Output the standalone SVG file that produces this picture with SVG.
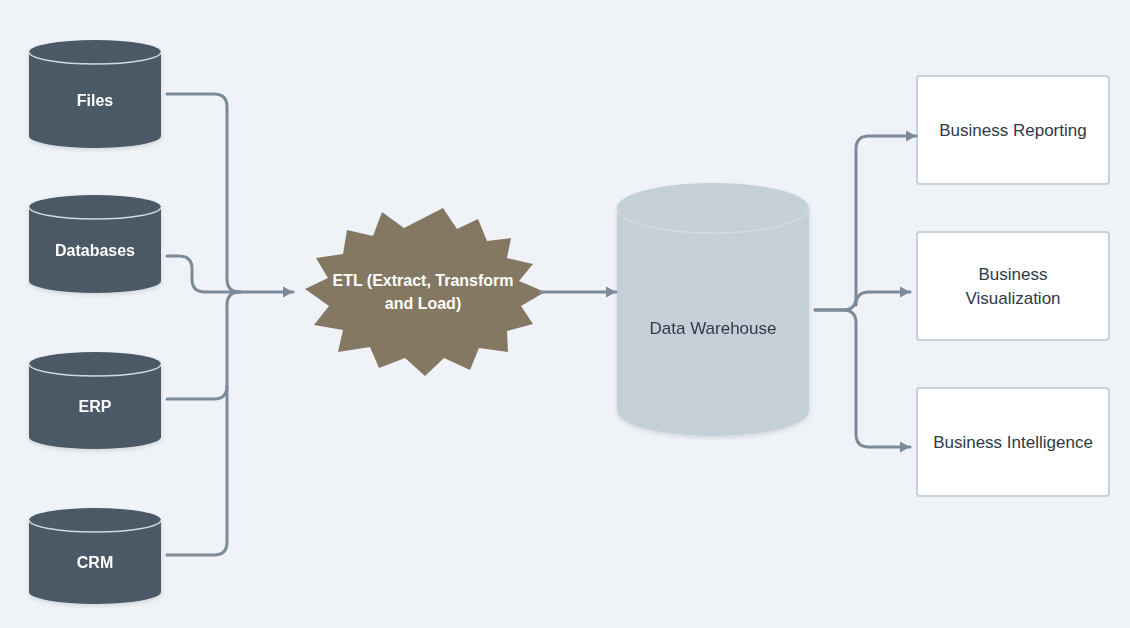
<svg xmlns="http://www.w3.org/2000/svg" width="1130" height="628" viewBox="0 0 1130 628">
<defs>
<marker id="arr" viewBox="0 0 12 12" refX="11" refY="6" markerWidth="12" markerHeight="12" markerUnits="userSpaceOnUse" orient="auto">
<path d="M1,0.5 L11,6 L1,11.5 Z" fill="#7d8a99"/>
</marker>
<filter id="sh" x="-10%" y="-10%" width="120%" height="130%">
<feDropShadow dx="0" dy="2" stdDeviation="2" flood-color="#000" flood-opacity="0.12"/>
</filter>
</defs>
<style>
.cyl{fill:#4b5866;}
.seam{fill:none;stroke:#d3d9df;stroke-width:1.5;}
.lbl{font-family:"Liberation Sans",Arial,sans-serif;font-size:16px;text-anchor:middle;dominant-baseline:central;}
.w{fill:#ffffff;font-weight:bold;}
.d{fill:#2d3a48;font-size:17px;}
.con{fill:none;stroke:#7d8a99;stroke-width:3;stroke-linecap:round;stroke-linejoin:round;}
.box{fill:#ffffff;stroke:#c8d1da;stroke-width:2;}
</style>
<rect width="1130" height="628" fill="#eff3f7"/>

<g id="files" filter="url(#sh)">
<path class="cyl" d="M29,52 A66,12 0 0 1 161,52 V136 A66,12 0 0 1 29,136 Z"/>
<path class="seam" d="M29,52 A66,12 0 0 0 161,52"/>
<text class="lbl w" x="95" y="100">Files</text>
</g>
<g id="databases" filter="url(#sh)">
<path class="cyl" d="M29,207 A66,12 0 0 1 161,207 V281 A66,12 0 0 1 29,281 Z"/>
<path class="seam" d="M29,207 A66,12 0 0 0 161,207"/>
<text class="lbl w" x="95" y="250">Databases</text>
</g>
<g id="erp" filter="url(#sh)">
<path class="cyl" d="M29,364 A66,12 0 0 1 161,364 V437 A66,12 0 0 1 29,437 Z"/>
<path class="seam" d="M29,364 A66,12 0 0 0 161,364"/>
<text class="lbl w" x="95" y="406">ERP</text>
</g>
<g id="crm" filter="url(#sh)">
<path class="cyl" d="M29,520 A66,12 0 0 1 161,520 V592 A66,12 0 0 1 29,592 Z"/>
<path class="seam" d="M29,520 A66,12 0 0 0 161,520"/>
<text class="lbl w" x="95" y="562">CRM</text>
</g>

<g id="etl">
<polygon fill="#847862" points="443,208 457,229 478,219 487,241 511,238 507,258 533,264 519,281 545,292 521,306 533,324 507,331 508,352 479,348 470,370 444,358 425,376 405,358 379,368 370,347 338,352 343,330 314,325 329,306 305,289 328,278 316,258 343,254 347,230 373,236 382,212 404,228"/>
<text class="lbl w" x="423" y="280">ETL (Extract, Transform</text>
<text class="lbl w" x="423" y="303">and Load)</text>
</g>

<g id="warehouse" filter="url(#sh)">
<path fill="#c5cfd8" d="M617,208 A96,25 0 0 1 809,208 V411 A96,25 0 0 1 617,411 Z"/>
<path class="seam" stroke="#e8edf1" d="M617,208 A96,25 0 0 0 809,208"/>
<text class="lbl d" x="713" y="328">Data Warehouse</text>
</g>

<g id="reporting">
<rect class="box" x="917" y="76" width="192" height="108" rx="3"/>
<text class="lbl d" x="1013" y="130">Business Reporting</text>
</g>
<g id="visualization">
<rect class="box" x="917" y="232" width="192" height="108" rx="3"/>
<text class="lbl d" x="1013" y="274">Business</text>
<text class="lbl d" x="1013" y="298">Visualization</text>
</g>
<g id="intelligence">
<rect class="box" x="917" y="388" width="192" height="108" rx="3"/>
<text class="lbl d" x="1013" y="442">Business Intelligence</text>
</g>

<g id="connectors">
<path class="con" d="M167,94 H214 Q227,94 227,107 V279 Q227,292 240,292 H293" marker-end="url(#arr)"/>
<path class="con" d="M167,256 H179 Q192,256 192,269 V279 Q192,292 205,292 H240"/>
<path class="con" d="M167,399 H214 Q227,399 227,386"/>
<path class="con" d="M167,555 H214 Q227,555 227,542 V305 Q227,292 240,292"/>
<path class="con" d="M540,292 H616" marker-end="url(#arr)"/>
<path class="con" d="M815,310 H843 Q856,310 856,297 V149 Q856,136 869,136 H916" marker-end="url(#arr)"/>
<path class="con" d="M856,305 Q856,292 869,292 H910" marker-end="url(#arr)"/>
<path class="con" d="M815,310 H843 Q856,310 856,323 V434 Q856,447 869,447 H910" marker-end="url(#arr)"/>
</g>
</svg>
